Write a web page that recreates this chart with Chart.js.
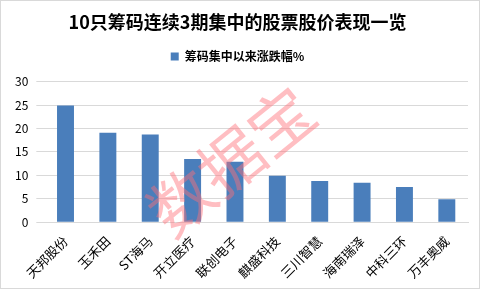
<!DOCTYPE html>
<html>
<head>
<meta charset="utf-8">
<script src="https://cdn.jsdelivr.net/npm/chart.js@4/dist/chart.umd.min.js"></script>
<style>
  html, body { margin: 0; padding: 0; background: #fff; }
  #wrap { position: relative; width: 478px; height: 287px; border: 1px solid #d9d9d9; }
</style>
</head>
<body>
<div id="wrap"><canvas id="myChart"></canvas></div>
<script>
const stocks = ['天邦股份', '玉禾田', 'ST海马', '开立医疗', '联创电子', '麒盛科技', '三川智慧', '海南瑞泽', '中科三环', '万丰奥威'];
const gains = [24.9, 19.1, 18.7, 13.5, 12.9, 9.9, 8.8, 8.4, 7.5, 4.9];
const yTicks = [0, 5, 10, 15, 20, 25, 30];

const fontFamily = '"Noto Sans CJK SC", "Liberation Sans", sans-serif';

// faint stamp over the plot
const stamp = {
    id: 'stamp',
    afterDatasetsDraw(chart) {
        const c = chart.ctx;
        c.save();
        c.translate(230, 160);
        c.rotate(-0.68);
        c.font = '64px ' + fontFamily;
        c.textAlign = 'center';
        c.textBaseline = 'middle';
        c.fillStyle = 'rgba(255, 110, 120, 0.45)';
        c.fillText('数据宝', 0, 0);
        c.restore();
    }
};

// extra room under the legend
const legendGap = {
    id: 'legendGap',
    beforeInit(chart) {
        const fit = chart.legend.fit;
        chart.legend.fit = function () {
            fit.bind(chart.legend)();
            this.height += 9;
        };
    }
};

var ctx = document.getElementById('myChart').getContext('2d');
new Chart(ctx, {
    type: 'bar',
    data: {
        labels: stocks,
        datasets: [{
            label: '筹码集中以来涨跌幅%',
            backgroundColor: '#4a7ebb',
            borderColor: '#4a7ebb',
            data: gains,
            barPercentage: 0.4,
            categoryPercentage: 1
        }]
    },
    plugins: [stamp, legendGap],
    options: {
        responsive: true,
        maintainAspectRatio: false,
        animation: false,
        layout: { padding: { left: 6, right: 11, top: 8, bottom: 4 } },
        plugins: {
            title: {
                display: true,
                text: '10只筹码连续3期集中的股票股价表现一览',
                color: '#000',
                font: { family: fontFamily, size: 18, weight: 'bold' },
                padding: { top: 2, bottom: 6 }
            },
            legend: {
                labels: {
                    color: '#000',
                    boxWidth: 8,
                    boxHeight: 8,
                    padding: 12,
                    font: { family: fontFamily, size: 12, weight: 'bold' }
                }
            },
            tooltip: { enabled: false }
        },
        scales: {
            x: {
                grid: { display: false },
                border: { color: '#d9d9d9' },
                ticks: {
                    color: '#000',
                    maxRotation: 45,
                    minRotation: 45,
                    font: { family: fontFamily, size: 13 }
                }
            },
            y: {
                min: 0,
                max: 30,
                afterBuildTicks: axis => { axis.ticks = yTicks.map(v => ({ value: v })); },
                grid: { color: '#d9d9d9' },
                border: { display: false },
                ticks: {
                    color: '#000',
                    padding: 8,
                    font: { family: fontFamily, size: 12 }
                }
            }
        }
    }
});
</script>
</body>
</html>
